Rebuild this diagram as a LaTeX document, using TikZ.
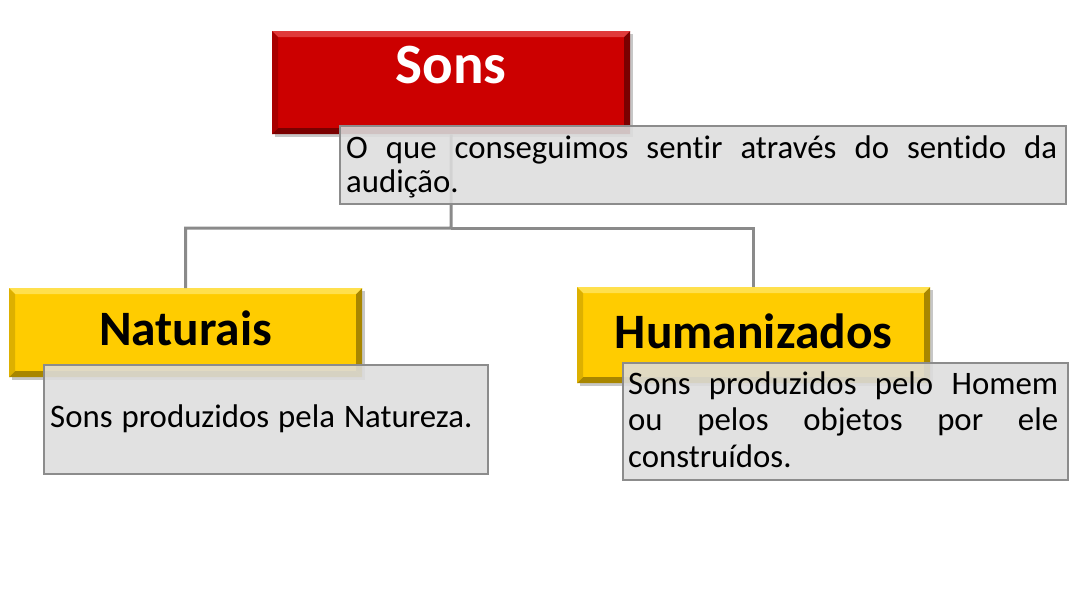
\documentclass[tikz,border=0pt]{standalone}
\usepackage{fontspec}
\setmainfont{Carlito}[Ligatures={NoCommon}]
\usetikzlibrary{shadows}
\definecolor{redbase}{HTML}{CC0000}
\definecolor{redlight}{HTML}{E03A3A}
\definecolor{reddark}{HTML}{7A0000}
\definecolor{redmid}{HTML}{A80000}
\definecolor{yelbase}{HTML}{FFCC00}
\definecolor{yellight}{HTML}{FFE04D}
\definecolor{yeldark}{HTML}{A88600}
\definecolor{yelmid}{HTML}{DDB000}
\definecolor{greyfill}{HTML}{DDDDDD}
\definecolor{greyline}{HTML}{8C8C8C}
\definecolor{connline}{HTML}{8A8A8A}
\tikzset{
  bevelbox/.style n args={4}{fill=#1, draw=none, inner sep=0pt, anchor=north west,
    drop shadow={shadow xshift=3pt, shadow yshift=-3pt, fill=black, opacity=0.22},
    path picture={
      \fill[#2] (path picture bounding box.north west) -- (path picture bounding box.north east)
        -- ([xshift=-6pt,yshift=-6pt]path picture bounding box.north east)
        -- ([xshift=6pt,yshift=-6pt]path picture bounding box.north west) -- cycle;
      \fill[#4] (path picture bounding box.north west) -- ([xshift=6pt,yshift=-6pt]path picture bounding box.north west)
        -- ([xshift=6pt,yshift=6pt]path picture bounding box.south west)
        -- (path picture bounding box.south west) -- cycle;
      \fill[#3] (path picture bounding box.south west) -- ([xshift=6pt,yshift=6pt]path picture bounding box.south west)
        -- ([xshift=-6pt,yshift=6pt]path picture bounding box.south east)
        -- (path picture bounding box.south east) -- cycle;
      \fill[#3] (path picture bounding box.north east) -- ([xshift=-6pt,yshift=-6pt]path picture bounding box.north east)
        -- ([xshift=-6pt,yshift=6pt]path picture bounding box.south east)
        -- (path picture bounding box.south east) -- cycle;
    }},
  redbox/.style={bevelbox={redbase}{redlight}{reddark}{redmid}, text=white,
    font=\fontsize{57}{60}\selectfont\bfseries},
  yelbox/.style={bevelbox={yelbase}{yellight}{yeldark}{yelmid}, text=black,
    font=\fontsize{49.5}{52}\selectfont\bfseries},
  greybox/.style={fill=greyfill, fill opacity=0.88, draw=greyline, line width=2.2pt,
    inner sep=0pt, anchor=north west},
  desc/.style={anchor=north west, inner sep=0pt, align=justify, text=black,
    font=\fontsize{32.8}{34.5}\selectfont},
  conn/.style={draw=connline, line width=3pt}
}
\begin{document}
\begin{tikzpicture}[x=1pt,y=-1pt]
\useasboundingbox (0,0) rectangle (1080,606);
\coordinate (junc) at (451,228);
% title boxes
\node[redbox, minimum width=358pt, text height=52pt, text depth=51pt] (sons) at (272,31) {Sons};
\node[yelbox, minimum width=353pt, text height=57pt, text depth=32pt] (nat) at (9,288) {Naturais};
\node[yelbox, minimum width=353pt, text height=61pt, text depth=35pt] (hum) at (577,287) {Humanizados};
% connectors
\draw[conn] (sons.south) -- (junc) -| (nat.north);
\draw[conn] (junc) -| (hum.north);
% description boxes
\node[greybox, minimum width=726pt, minimum height=78pt] (dsons) at (339,125) {};
\node[greybox, minimum width=444pt, minimum height=109pt] (dnat) at (43,364) {};
\node[greybox, minimum width=445pt, minimum height=117pt] (dhum) at (622,362) {};
% texts
\node[desc, text width=711pt] (tsons) at (346,128)
  {\hyphenpenalty=10000\rule{0pt}{30pt}O que conseguimos sentir através do sentido da\linebreak audição.};
\node[desc, text width=430pt] (tnat) at (50,397)
  {\hyphenpenalty=10000\spaceskip=9pt plus 2pt minus 1pt\rule{0pt}{30pt}Sons produzidos pela Natureza.};
\node[desc, text width=430pt, font=\fontsize{32.8}{36.6}\selectfont] (thum) at (628,364)
  {\hyphenpenalty=10000\rule{0pt}{30pt}Sons produzidos pelo Homem\linebreak ou pelos objetos por ele\linebreak construídos.};
\end{tikzpicture}
\end{document}
